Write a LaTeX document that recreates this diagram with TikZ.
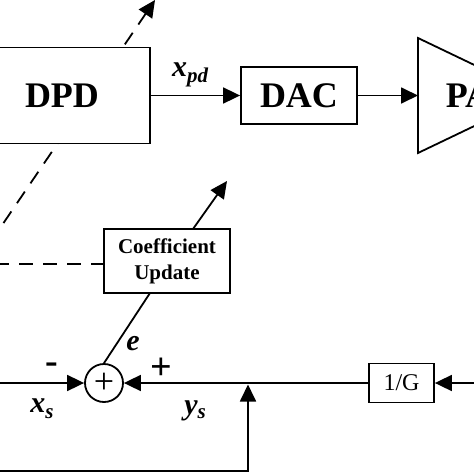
\documentclass[tikz,border=0pt]{standalone}
\usepackage{fontspec}
\setmainfont{Liberation Serif}
\usetikzlibrary{arrows.meta}
\begin{document}
\begin{tikzpicture}[x=1pt,y=-1pt, line width=1.8pt,
  blk/.style={draw, fill=white, inner sep=0pt, font=\bfseries\fontsize{36}{40}\selectfont},
  tip/.style={-{Triangle[length=17pt,width=16pt]}},
  dsh/.style={dash pattern=on 14pt off 10pt},
  lbl/.style={font=\bfseries\itshape\fontsize{30}{32}\selectfont, inner sep=0pt},
  sgn/.style={font=\bfseries\fontsize{38}{40}\selectfont, inner sep=0pt}]
\useasboundingbox (0,0) rectangle (474,474);
\clip (0,0) rectangle (474,474);
% dashed adjustment arrow through DPD
\coordinate (d0) at (-10,242.9);
\coordinate (d1) at (155,0);
\draw[dsh, tip] (d0) -- (d1);
% blocks
\node[blk, minimum width=176pt, minimum height=96pt] (dpd) at (62,95.5) {DPD};
\node[blk, minimum width=116pt, minimum height=57pt] (dac) at (299,95.5) {DAC};
\draw[fill=white] (418,38) -- (538,95.5) -- (418,153) -- cycle;
\coordinate (pain) at (418,95.5);
\node[anchor=west, inner sep=0pt, font=\bfseries\fontsize{36}{40}\selectfont] (pa) at (445,95.5) {PA};
\draw[tip] (dpd) -- (dac);
\draw[tip] (dac) -- (pain);
\node[lbl] (xpd) at (190,75) {x\raisebox{-6pt}{\fontsize{21}{22}\selectfont pd}};
% coefficient update
\node[draw, fill=white, minimum width=126pt, minimum height=64pt, align=center, inner sep=0pt,
  font=\bfseries\fontsize{21}{26}\selectfont] (cu) at (167,261) {Coefficient\\Update};
\coordinate (dl) at (-5,264);
\draw[dsh] (dl) -- (dl -| cu.west);
\coordinate (cut) at (193,229);
\coordinate (cua) at (227,181);
\draw[tip] (cut) -- (cua);
% summer
\node[draw, circle, minimum size=38pt, inner sep=0pt, font=\fontsize{36}{38}\selectfont] (sum) at (104,383) {+};
\coordinate (cub) at (150,293);
\draw (sum.north) -- (cub);
\node[lbl] (e) at (133,344) {e};
\node[draw, minimum width=65pt, minimum height=39pt, inner sep=0pt, font=\fontsize{24}{26}\selectfont] (g) at (401.5,383) {1/G};
\coordinate (lin) at (-5,383);
\coordinate (rin) at (480,383);
\draw[tip] (lin) -- (sum);
\draw[tip] (rin) -- (g);
\draw[tip] (g) -- (sum);
\coordinate (bl) at (-5,471);
\coordinate (j) at (248,384.5);
\draw[tip] (bl) -| (j);
\node[sgn] (minus) at (52,368) {-};
\node[sgn] (plus) at (161,369) {+};
\node[lbl] (xs) at (42,409) {x\raisebox{-6pt}{\fontsize{21}{22}\selectfont s}};
\node[lbl] (ys) at (195,411) {y\raisebox{-4pt}{\fontsize{21}{22}\selectfont s}};
\end{tikzpicture}
\end{document}
